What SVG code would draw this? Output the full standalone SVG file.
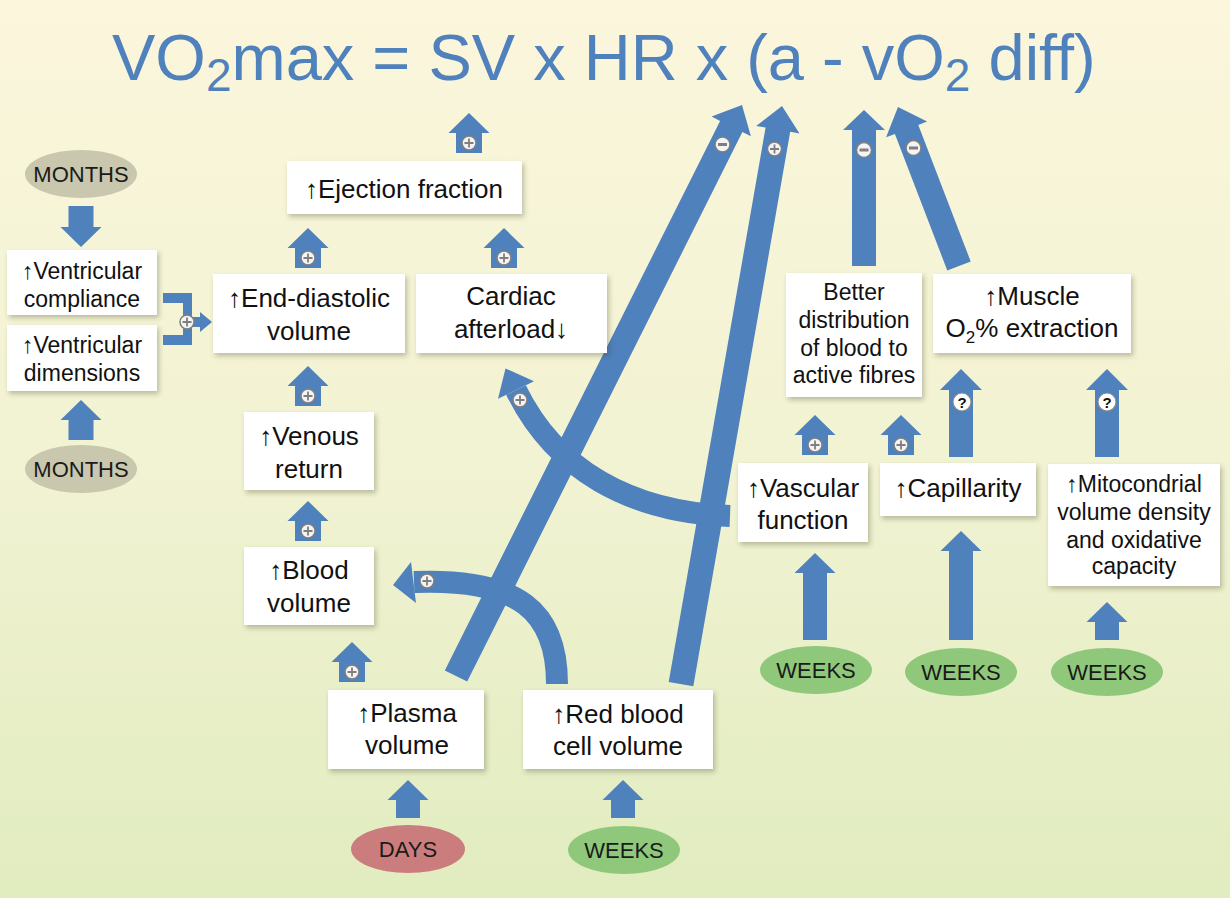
<svg xmlns="http://www.w3.org/2000/svg" xmlns:xlink="http://www.w3.org/1999/xlink" width="1230" height="898" viewBox="0 0 1230 898">
<defs>
<linearGradient id="bg" x1="0" y1="0" x2="0" y2="1">
<stop offset="0" stop-color="#fbf6dc"/>
<stop offset="0.5" stop-color="#f2f3d3"/>
<stop offset="1" stop-color="#e1ecbf"/>
</linearGradient>
<filter id="sh" x="-10%" y="-10%" width="130%" height="140%">
<feDropShadow dx="2" dy="3" stdDeviation="2.5" flood-color="#3a3a20" flood-opacity="0.3"/>
</filter>
<path id="hs" d="M0,0 L20.5,20 L13,20 L13,40 L-13,40 L-13,20 L-20.5,20 Z"/>
<g id="pl"><circle r="7" fill="#f4f4f4" stroke="#7f7f7f" stroke-width="1.5"/><path d="M-4.5,0H4.5M0,-4.5V4.5" stroke="#7f7f7f" stroke-width="1.8" fill="none"/></g>
<g id="mi"><circle r="7.5" fill="#f4f4f4" stroke="#7f7f7f" stroke-width="1.5"/><path d="M-4.5,0H4.5" stroke="#7f7f7f" stroke-width="3" fill="none"/></g>
<g id="qu"><circle r="9" fill="#ffffff" stroke="#8a8a8a" stroke-width="1.2"/><text y="5.5" font-size="15" text-anchor="middle" fill="#8a8a8a" font-weight="bold" font-family="Liberation Sans, Arial, sans-serif">?</text></g>
<style>
text{font-family:"Liberation Sans",Arial,sans-serif;fill:#111}
.box{fill:#ffffff;filter:url(#sh)}
.b{fill:#4f81bd}
.c{fill:none;stroke:#4f81bd;stroke-width:22}
.t26{font-size:26px;text-anchor:middle}
.t23{font-size:23px;text-anchor:middle}
.e{font-size:22px;text-anchor:middle;fill:#1a1a1a}
.gray{fill:#c9c7ad}
.green{fill:#8fc87a}
.red{fill:#cb7d7d}
</style>
</defs>
<rect width="1230" height="898" fill="url(#bg)"/>

<g id="title">
<text x="112" y="80" font-size="65" style="fill:#4f81bd">VO<tspan font-size="46" dy="11">2</tspan><tspan dy="-11">max = SV x HR x (a - vO</tspan><tspan font-size="46" dy="11">2</tspan><tspan dy="-11"> diff)</tspan></text>
</g>

<g id="connectors">
<!-- left bracket -->
<path class="b" d="M163,293 H192 V345 H163 V335 H183 V303 H163 Z"/>
<path class="b" d="M192,317 H200 V312 L212,322 L200,332 V327 H192 Z"/>
<use href="#pl" x="187" y="322"/>
<!-- months arrows -->
<path class="b" d="M81,247 L101.5,227 L93.5,227 L93.5,206 L68.5,206 L68.5,227 L60.5,227 Z"/>
<path class="b" d="M81,400 L101.5,420 L93.5,420 L93.5,440 L68.5,440 L68.5,420 L60.5,420 Z"/>
<!-- house arrows -->
<use href="#hs" class="b" x="469" y="113"/><use href="#pl" x="469" y="143"/>
<use href="#hs" class="b" x="308" y="228"/><use href="#pl" x="308" y="258"/>
<use href="#hs" class="b" x="504" y="228"/><use href="#pl" x="504" y="258"/>
<use href="#hs" class="b" x="308" y="366"/><use href="#pl" x="308" y="396"/>
<use href="#hs" class="b" x="308" y="501"/><use href="#pl" x="308" y="531"/>
<use href="#hs" class="b" x="352" y="642"/><use href="#pl" x="352" y="672"/>
<use href="#hs" class="b" x="815" y="415"/><use href="#pl" x="815" y="445"/>
<use href="#hs" class="b" x="901" y="415"/><use href="#pl" x="901" y="445"/>
<!-- question arrows -->
<path class="b" d="M961,369 L982,390 L973,390 L973,457 L949,457 L949,390 L940,390 Z"/>
<use href="#qu" x="962" y="402"/>
<path class="b" d="M1107,369 L1128,390 L1119,390 L1119,457 L1095,457 L1095,390 L1086,390 Z"/>
<use href="#qu" x="1107" y="402"/>
<!-- time arrows -->
<path class="b" d="M815,553 L835.5,573 L827,573 L827,640 L803,640 L803,573 L794.5,573 Z"/>
<path class="b" d="M961,531 L981.5,551 L973,551 L973,640 L949,640 L949,551 L940.5,551 Z"/>
<path class="b" d="M1107,602 L1127.5,622 L1119,622 L1119,640 L1095,640 L1095,622 L1086.5,622 Z"/>
<path class="b" d="M408,780 L428.5,800 L420,800 L420,818 L396,818 L396,800 L387.5,800 Z"/>
<path class="b" d="M623,780 L643.5,800 L635,800 L635,818 L611,818 L611,800 L602.5,800 Z"/>
<!-- curved arrow vascular -> cardiac afterload -->
<path class="c" d="M730,516 C630,512 555,470 516,390"/>
<path class="b" d="M534,381.2 L505.5,368.4 L498,398.8 Z"/>
<use href="#pl" x="520" y="400"/>
<!-- curved arrow RBC -> blood volume -->
<path class="c" d="M557,684 C557,612 520,578 414,582"/>
<path class="b" d="M411,562 L393,585 L416,603 Z"/>
<use href="#pl" x="427" y="581"/>
<!-- long arrow plasma -> title (minus) -->
<path class="b" d="M444.8,670.4 L720.1,120.9 L711.6,116.6 L742,105 L750.9,136.3 L742.4,132.1 L467.2,681.6 Z"/>
<use href="#mi" x="722.5" y="144.5"/>
<!-- long arrow RBC -> title (plus) -->
<path class="b" d="M668.7,681.9 L765.6,127.5 L756.2,125.9 L782,106 L799.5,133.4 L790.2,131.8 L693.3,686.2 Z"/>
<use href="#pl" x="774.5" y="149"/>
<!-- vertical arrow better distribution -> title -->
<path class="b" d="M864,110 L885,130 L876,130 L876,266 L852,266 L852,130 L843,130 Z"/>
<use href="#mi" x="864" y="150"/>
<!-- muscle -> title -->
<path class="b" d="M947.3,270.5 L894.9,133.9 L886.1,137.3 L898,107 L927.1,121.5 L918.3,124.9 L970.7,261.5 Z"/>
<use href="#mi" x="913.5" y="148"/>
</g>

<g id="n-months-top"><ellipse class="gray" cx="81" cy="174" rx="56" ry="24"/><text class="e" x="81" y="182">MONTHS</text></g>
<g id="n-months-bottom"><ellipse class="gray" cx="81" cy="469" rx="56" ry="24"/><text class="e" x="81" y="477">MONTHS</text></g>
<g id="n-days"><ellipse class="red" cx="408" cy="849" rx="57" ry="24"/><text class="e" x="408" y="857">DAYS</text></g>
<g id="n-weeks-rbc"><ellipse class="green" cx="624" cy="850" rx="56" ry="24"/><text class="e" x="624" y="858">WEEKS</text></g>
<g id="n-weeks-vasc"><ellipse class="green" cx="816" cy="670" rx="56" ry="24"/><text class="e" x="816" y="678">WEEKS</text></g>
<g id="n-weeks-cap"><ellipse class="green" cx="961" cy="672" rx="56" ry="24"/><text class="e" x="961" y="680">WEEKS</text></g>
<g id="n-weeks-mito"><ellipse class="green" cx="1107" cy="672" rx="56" ry="24"/><text class="e" x="1107" y="680">WEEKS</text></g>

<g id="n-vent-compliance"><rect class="box" x="7" y="250" width="150" height="65"/><text class="t23" x="82" y="279">↑Ventricular</text><text class="t23" x="82" y="307">compliance</text></g>
<g id="n-vent-dimensions"><rect class="box" x="7" y="325" width="150" height="66"/><text class="t23" x="82" y="353">↑Ventricular</text><text class="t23" x="82" y="381">dimensions</text></g>
<g id="n-ejection"><rect class="box" x="287" y="161" width="235" height="53"/><text class="t26" x="404" y="198">↑Ejection fraction</text></g>
<g id="n-edv"><rect class="box" x="213" y="274" width="192" height="79"/><text class="t26" x="309" y="307">↑End-diastolic</text><text class="t26" x="309" y="340">volume</text></g>
<g id="n-afterload"><rect class="box" x="416" y="274" width="191" height="79"/><text class="t26" x="511" y="305">Cardiac</text><text class="t26" x="511" y="338">afterload↓</text></g>
<g id="n-venous"><rect class="box" x="244" y="412" width="130" height="78"/><text class="t26" x="309" y="445">↑Venous</text><text class="t26" x="309" y="478">return</text></g>
<g id="n-blood"><rect class="box" x="244" y="547" width="130" height="78"/><text class="t26" x="309" y="579">↑Blood</text><text class="t26" x="309" y="612">volume</text></g>
<g id="n-plasma"><rect class="box" x="328" y="690" width="156" height="79"/><text class="t26" x="407" y="722">↑Plasma</text><text class="t26" x="407" y="754">volume</text></g>
<g id="n-rbc"><rect class="box" x="523" y="690" width="190" height="79"/><text class="t26" x="618" y="723">↑Red blood</text><text class="t26" x="618" y="755">cell volume</text></g>
<g id="n-distribution"><rect class="box" x="786" y="273" width="136" height="124"/><text class="t23" x="854" y="300">Better</text><text class="t23" x="854" y="328">distribution</text><text class="t23" x="854" y="356">of blood to</text><text class="t23" x="854" y="383">active fibres</text></g>
<g id="n-muscle"><rect class="box" x="933" y="274" width="198" height="79"/><text class="t26" x="1032" y="305">↑Muscle</text><text class="t26" x="1032" y="337">O<tspan font-size="17" dy="6">2</tspan><tspan dy="-6">% extraction</tspan></text></g>
<g id="n-vascular"><rect class="box" x="738" y="463" width="130" height="79"/><text class="t26" x="803" y="497">↑Vascular</text><text class="t26" x="803" y="529">function</text></g>
<g id="n-capillarity"><rect class="box" x="880" y="463" width="156" height="53"/><text class="t26" x="958" y="497">↑Capillarity</text></g>
<g id="n-mito"><rect class="box" x="1048" y="464" width="172" height="122"/><text class="t23" x="1134" y="492">↑Mitocondrial</text><text class="t23" x="1134" y="520">volume density</text><text class="t23" x="1134" y="548">and oxidative</text><text class="t23" x="1134" y="574">capacity</text></g>
</svg>
